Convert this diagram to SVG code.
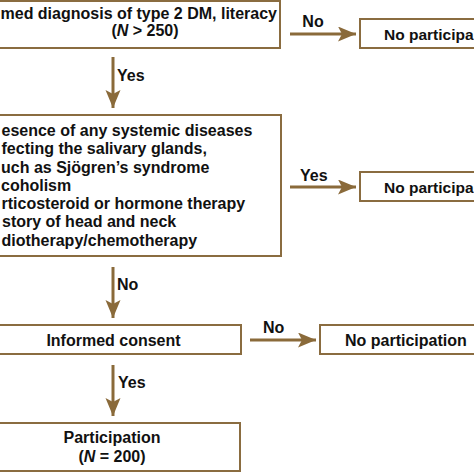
<svg xmlns="http://www.w3.org/2000/svg" width="474" height="474" viewBox="0 0 474 474">
<style>
.box{fill:#fff;stroke:#8a6c40;stroke-width:2}
.t{font-family:"Liberation Sans",Arial,sans-serif;font-size:16px;font-weight:bold;fill:#111}
.c{text-anchor:middle}
.e{text-anchor:end}
.r{font-size:15.5px}
.ln{stroke:#8a6a3a;stroke-width:3;fill:none}
</style>
<defs>
<marker id="ah" markerUnits="userSpaceOnUse" markerWidth="20" markerHeight="16" refX="18" refY="7.5" orient="auto" viewBox="0 0 20 16">
<path d="M0,0 L18,7.5 L0,15 L4,7.5 z" fill="#8a6a3a"/>
</marker>
</defs>
<rect width="474" height="474" fill="#fff"/>
<g id="n1">
<rect class="box" x="-5" y="1" width="285" height="47"/>
<text class="t" x="0.5" y="19">med diagnosis of type 2 DM, literacy</text>
<text class="t c" x="145" y="36">(<tspan font-style="italic">N</tspan> &gt; 250)</text>
</g>
<g id="n1r">
<rect class="box" x="360" y="19" width="130" height="29"/>
<text class="t r" x="384" y="40">No participa</text>
</g>
<g id="n2">
<rect class="box" x="-5" y="115" width="286" height="141"/>
<text class="t" x="1.5" y="136">esence of any systemic diseases</text>
<text class="t" x="1.5" y="154.3">fecting the salivary glands,</text>
<text class="t" x="1" y="172.6">uch as Sjögren’s syndrome</text>
<text class="t" x="1" y="190.9">coholism</text>
<text class="t" x="1.5" y="209.2">rticosteroid or hormone therapy</text>
<text class="t" x="2" y="227.4">story of head and neck</text>
<text class="t" x="1.5" y="245.6">diotherapy/chemotherapy</text>
</g>
<g id="n2r">
<rect class="box" x="360" y="172" width="130" height="29"/>
<text class="t r" x="384" y="193">No participa</text>
</g>
<g id="n3">
<rect class="box" x="-5" y="325" width="246" height="29"/>
<text class="t c" x="113.5" y="346">Informed consent</text>
</g>
<g id="n3r">
<rect class="box" x="320" y="325" width="170" height="29"/>
<text class="t" x="345" y="346">No participation</text>
</g>
<g id="n4">
<rect class="box" x="-5" y="423" width="245" height="48"/>
<text class="t c" x="112" y="443">Participation</text>
<text class="t c" x="112" y="462">(<tspan font-style="italic">N</tspan> = 200)</text>
</g>
<g id="connectors">
<line class="ln" x1="290" y1="34" x2="356" y2="34" marker-end="url(#ah)"/>
<text class="t c" x="313" y="27">No</text>
<line class="ln" x1="113" y1="57" x2="113" y2="108" marker-end="url(#ah)"/>
<text class="t" x="117" y="81">Yes</text>
<line class="ln" x1="290" y1="187" x2="356" y2="187" marker-end="url(#ah)"/>
<text class="t" x="300" y="180.5">Yes</text>
<line class="ln" x1="113" y1="267" x2="113" y2="318" marker-end="url(#ah)"/>
<text class="t" x="117" y="290">No</text>
<line class="ln" x1="250" y1="340" x2="316" y2="340" marker-end="url(#ah)"/>
<text class="t" x="263" y="333">No</text>
<line class="ln" x1="113" y1="365" x2="113" y2="416" marker-end="url(#ah)"/>
<text class="t" x="118" y="388">Yes</text>
</g>
</svg>
